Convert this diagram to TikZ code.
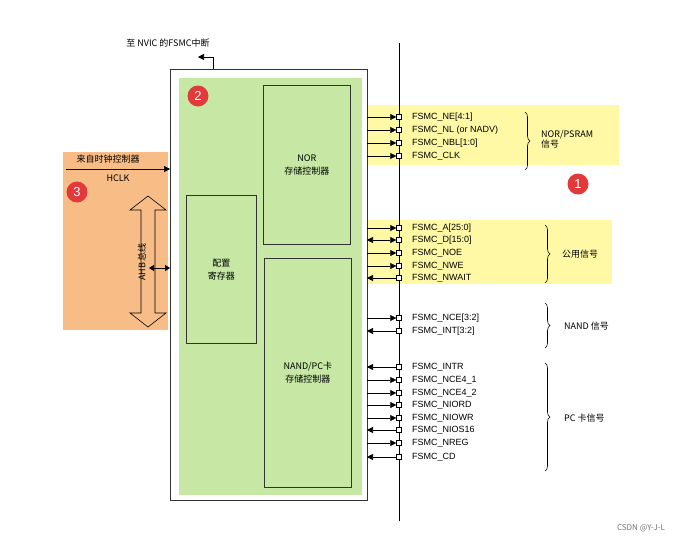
\documentclass[tikz,border=0pt]{standalone}
\usepackage{fontspec}
\setmainfont{Liberation Sans}
\newfontfamily\cjk{Noto Sans CJK SC}
\usetikzlibrary{arrows.meta,decorations.pathreplacing}
\definecolor{gr}{HTML}{C6E8A4}
\definecolor{ye}{HTML}{FFF9A6}
\definecolor{orx}{HTML}{F8BD86}
\definecolor{bad}{HTML}{E2393B}
\begin{document}
\begin{tikzpicture}[x=1pt,y=-1pt,
  lab/.style={font=\fontsize{9}{10}\selectfont\cjk,inner sep=0pt},
  sig/.style={font=\fontsize{9}{10}\selectfont,anchor=west,inner sep=0pt},
  pin/.style={draw,fill=white,minimum size=5pt,inner sep=0pt},
  box/.style={draw=black!80,line width=0.6pt},
  badge/.style={circle,fill=bad,text=white,minimum size=21pt,inner sep=0pt,font=\fontsize{13}{13}\selectfont},
  tip/.style={-{Triangle[length=6pt,width=6pt]}},
  br/.style={decorate,decoration={brace,amplitude=5pt},line width=0.6pt}]
\useasboundingbox (0,0) rectangle (677,542);
\fill[white] (0,0) rectangle (677,542);
% bands
\fill[ye] (367,105) rectangle (619,165);
\fill[ye] (367,220) rectangle (612,284);
\fill[orx] (63,152) rectangle (168,330);
% outer box
\draw[box] (170,69) rectangle (367,500);
\fill[gr] (179,78) rectangle (362,495);
\node[box,minimum width=87pt,minimum height=159pt,anchor=north west,align=center,lab] (nor) at (263,85) {NOR\\[3pt]存储控制器};
\node[box,minimum width=70pt,minimum height=148pt,anchor=north west,align=center,lab] (cfg) at (186,195) {配置\\[3pt]寄存器};
\node[box,minimum width=87pt,minimum height=229pt,anchor=north west,align=center,lab] (nand) at (264,258) {NAND/PC卡\\[3pt]存储控制器};
\node[badge] (b2) at (198,96) {2};
% interrupt
\coordinate (irqs) at (213,69);
\coordinate (irqe) at (198,57);
\draw[tip,line width=0.6pt] (irqs) |- (irqe);
\node[lab] (irq) at (168,43) {至 NVIC 的FSMC中断};
% clock
\node[lab] (clk) at (108,159) {来自时钟控制器};
\coordinate (clks) at (66,169);
\coordinate (clke) at (170,169);
\draw[tip,line width=0.6pt] (clks) -- (clke);
\node[lab] (hclk) at (118,178) {HCLK};
\node[badge] (b3) at (77,192) {3};
% AHB
\draw[fill=orx,line width=0.6pt] (148,196) -- (166,210) -- (155,210) -- (155,313) -- (166,313) -- (148,327) -- (130,313) -- (141,313) -- (141,210) -- (130,210) -- cycle;
\node[lab,rotate=90] (ahb) at (142,262) {AHB 总线};
\coordinate (ahbs) at (149,268);
\coordinate (ahbe) at (170,268);
\draw[{Triangle[length=5pt,width=6pt]}-{Triangle[length=5pt,width=6pt]},line width=0.6pt] (ahbs) -- (ahbe);
% bus
\coordinate (bt) at (399,43);
\coordinate (bb) at (399,521);
\draw[line width=0.6pt] (bt) -- (bb);
% signals: y, name, dir (o=out,i=in,b=both)
\foreach \y/\n/\t/\d in {117/ne/FSMC\_NE[4:1]/o,130/nl/FSMC\_NL (or NADV)/o,143/nbl/FSMC\_NBL[1:0]/o,156/clkp/FSMC\_CLK/o,
 228/a/FSMC\_A[25:0]/o,240/d/FSMC\_D[15:0]/b,253/noe/FSMC\_NOE/o,266/nwe/FSMC\_NWE/o,278/nwait/FSMC\_NWAIT/i,
 318/nce/FSMC\_NCE[3:2]/o,331/int/FSMC\_INT[3:2]/i,
 367/intr/FSMC\_INTR/i,380/nce41/FSMC\_NCE4\_1/o,393/nce42/FSMC\_NCE4\_2/o,405/niord/FSMC\_NIORD/o,418/niowr/FSMC\_NIOWR/o,430/nios/FSMC\_NIOS16/i,443/nreg/FSMC\_NREG/o,457/cd/FSMC\_CD/i}{
  \node[pin] (p\n) at (399,\y) {};
  \coordinate (s\n) at (367,\y);
  \if o\d \draw[-{Triangle[length=6pt,width=6pt]},line width=0.6pt] (s\n) -- (p\n.west);\fi
  \if i\d \draw[{Triangle[length=6pt,width=6pt]}-,line width=0.6pt] (s\n) -- (p\n.west);\fi
  \if b\d \draw[{Triangle[length=6pt,width=6pt]}-{Triangle[length=6pt,width=6pt]},line width=0.6pt] (s\n) -- (p\n.west);\fi
  \node[sig] (t\n) at (412,\y) {\t};
}
% braces
\coordinate (b1t) at (525,112); \coordinate (b1b) at (525,170);
\draw[br] (b1t) -- (b1b);
\node[lab,align=left,anchor=west] (g1) at (541,139) {NOR/PSRAM\\信号};
\node[badge] (b1) at (578,184) {1};
\coordinate (b2t) at (545,225); \coordinate (b2b) at (545,283);
\draw[br] (b2t) -- (b2b);
\node[lab,anchor=west] (g2) at (562,254) {公用信号};
\coordinate (b3t) at (545,303); \coordinate (b3b) at (545,348);
\draw[br] (b3t) -- (b3b);
\node[lab,anchor=west] (g3) at (564,326) {NAND 信号};
\coordinate (b4t) at (545,363); \coordinate (b4b) at (545,471);
\draw[br] (b4t) -- (b4b);
\node[lab,anchor=west] (g4) at (564,418) {PC 卡信号};
\node[lab,text=black!55,font=\fontsize{8}{9}\selectfont\cjk] (wm) at (641,528) {CSDN @Y-J-L};
\end{tikzpicture}
\end{document}
